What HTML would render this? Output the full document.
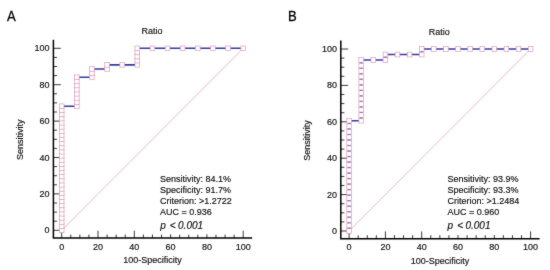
<!DOCTYPE html>
<html><head><meta charset="utf-8"><style>
html,body{margin:0;padding:0;background:#fff;}
body{width:550px;height:270px;overflow:hidden;font-family:"Liberation Sans",sans-serif;}
svg{display:block;}
</style></head><body>
<svg width="550" height="270" viewBox="0 0 550 270">
<defs><filter id="bl" color-interpolation-filters="sRGB" filterUnits="userSpaceOnUse" x="0" y="0" width="550" height="270"><feConvolveMatrix order="3" kernelMatrix="1 2 1 2 28 2 1 2 1" divisor="40" edgeMode="duplicate" preserveAlpha="true"/></filter></defs>
<g filter="url(#bl)">
<rect width="550" height="270" fill="#fff"/>
<line x1="61.70" y1="230.30" x2="243.20" y2="48.30" stroke="#d9a2b2" stroke-width="0.75"/>
<path d="M53.40 230.30H60.80M53.40 221.20H57.00M53.40 212.10H57.00M53.40 203.00H57.00M53.40 193.90H60.80M53.40 184.80H57.00M53.40 175.70H57.00M53.40 166.60H57.00M53.40 157.50H60.80M53.40 148.40H57.00M53.40 139.30H57.00M53.40 130.20H57.00M53.40 121.10H60.80M53.40 112.00H57.00M53.40 102.90H57.00M53.40 93.80H57.00M53.40 84.70H60.80M53.40 75.60H57.00M53.40 66.50H57.00M53.40 57.40H57.00M53.40 48.30H60.80M61.70 238.10V230.70M70.78 238.10V234.50M79.85 238.10V234.50M88.92 238.10V234.50M98.00 238.10V230.70M107.08 238.10V234.50M116.15 238.10V234.50M125.22 238.10V234.50M134.30 238.10V230.70M143.38 238.10V234.50M152.45 238.10V234.50M161.53 238.10V234.50M170.60 238.10V230.70M179.68 238.10V234.50M188.75 238.10V234.50M197.82 238.10V234.50M206.90 238.10V230.70M215.98 238.10V234.50M225.05 238.10V234.50M234.12 238.10V234.50M243.20 238.10V230.70" stroke="#3a3a3a" stroke-width="1" fill="none"/>
<path d="M53.40 39.70V238.85M52.65 238.10H252.20" stroke="#000000" stroke-width="1.5" fill="none"/>
<path d="M61.70 230.30L61.70 226.16L61.70 222.03L61.70 217.89L61.70 213.75L61.70 209.62L61.70 205.48L61.70 201.35L61.70 197.21L61.70 193.07L61.70 188.94L61.70 184.80L61.70 180.66L61.70 176.53L61.70 172.39L61.70 168.25L61.70 164.12L61.70 159.98L61.70 155.85L61.70 151.71L61.70 147.57L61.70 143.44L61.70 139.30L61.70 135.16L61.70 131.03L61.70 126.89L61.70 122.75L61.70 118.62L61.70 114.48L61.70 110.35L61.70 106.21L76.83 106.21L76.83 102.07L76.83 97.94L76.83 93.80L76.83 89.66L76.83 85.53L76.83 81.39L76.83 77.25L91.95 77.25L91.95 73.12L91.95 68.98L107.08 68.98L107.08 64.85L122.20 64.85L137.32 64.85L137.32 60.71L137.32 56.57L137.32 52.44L137.32 48.30L152.45 48.30L167.57 48.30L182.70 48.30L197.82 48.30L212.95 48.30L228.07 48.30L243.20 48.30" stroke="#3838a8" stroke-width="1.6" fill="none"/>
<line x1="349.10" y1="231.00" x2="530.60" y2="49.00" stroke="#d9a2b2" stroke-width="0.75"/>
<path d="M340.80 231.00H348.20M340.80 221.90H344.40M340.80 212.80H344.40M340.80 203.70H344.40M340.80 194.60H348.20M340.80 185.50H344.40M340.80 176.40H344.40M340.80 167.30H344.40M340.80 158.20H348.20M340.80 149.10H344.40M340.80 140.00H344.40M340.80 130.90H344.40M340.80 121.80H348.20M340.80 112.70H344.40M340.80 103.60H344.40M340.80 94.50H344.40M340.80 85.40H348.20M340.80 76.30H344.40M340.80 67.20H344.40M340.80 58.10H344.40M340.80 49.00H348.20M349.10 238.80V231.40M358.17 238.80V235.20M367.25 238.80V235.20M376.32 238.80V235.20M385.40 238.80V231.40M394.47 238.80V235.20M403.55 238.80V235.20M412.62 238.80V235.20M421.70 238.80V231.40M430.77 238.80V235.20M439.85 238.80V235.20M448.92 238.80V235.20M458.00 238.80V231.40M467.07 238.80V235.20M476.15 238.80V235.20M485.22 238.80V235.20M494.30 238.80V231.40M503.38 238.80V235.20M512.45 238.80V235.20M521.52 238.80V235.20M530.60 238.80V231.40" stroke="#3a3a3a" stroke-width="1" fill="none"/>
<path d="M340.80 40.40V239.55M340.05 238.80H539.60" stroke="#000000" stroke-width="1.5" fill="none"/>
<path d="M349.10 231.00L349.10 225.48L349.10 219.97L349.10 214.45L349.10 208.94L349.10 203.42L349.10 197.91L349.10 192.39L349.10 186.88L349.10 181.36L349.10 175.85L349.10 170.33L349.10 164.82L349.10 159.30L349.10 153.79L349.10 148.27L349.10 142.76L349.10 137.24L349.10 131.73L349.10 126.21L349.10 120.70L361.20 120.70L361.20 115.18L361.20 109.67L361.20 104.15L361.20 98.64L361.20 93.12L361.20 87.61L361.20 82.09L361.20 76.58L361.20 71.06L361.20 65.55L361.20 60.03L373.30 60.03L385.40 60.03L385.40 54.52L397.50 54.52L409.60 54.52L421.70 54.52L421.70 49.00L433.80 49.00L445.90 49.00L458.00 49.00L470.10 49.00L482.20 49.00L494.30 49.00L506.40 49.00L518.50 49.00L530.60 49.00" stroke="#3838a8" stroke-width="1.6" fill="none"/>
<rect x="157" y="168" width="80" height="66.3" fill="#fff"/>
<rect x="444.40" y="168.70" width="80" height="66.3" fill="#fff"/>
<g fill="#fff" stroke="#dc9ab7" stroke-width="0.7">
<rect x="59.40" y="228.00" width="4.6" height="4.60"/>
<rect x="59.40" y="223.86" width="4.6" height="4.60"/>
<rect x="59.40" y="219.73" width="4.6" height="4.60"/>
<rect x="59.40" y="215.59" width="4.6" height="4.60"/>
<rect x="59.40" y="211.45" width="4.6" height="4.60"/>
<rect x="59.40" y="207.32" width="4.6" height="4.60"/>
<rect x="59.40" y="203.18" width="4.6" height="4.60"/>
<rect x="59.40" y="199.05" width="4.6" height="4.60"/>
<rect x="59.40" y="194.91" width="4.6" height="4.60"/>
<rect x="59.40" y="190.77" width="4.6" height="4.60"/>
<rect x="59.40" y="186.64" width="4.6" height="4.60"/>
<rect x="59.40" y="182.50" width="4.6" height="4.60"/>
<rect x="59.40" y="178.36" width="4.6" height="4.60"/>
<rect x="59.40" y="174.23" width="4.6" height="4.60"/>
<rect x="59.40" y="170.09" width="4.6" height="4.60"/>
<rect x="59.40" y="165.95" width="4.6" height="4.60"/>
<rect x="59.40" y="161.82" width="4.6" height="4.60"/>
<rect x="59.40" y="157.68" width="4.6" height="4.60"/>
<rect x="59.40" y="153.55" width="4.6" height="4.60"/>
<rect x="59.40" y="149.41" width="4.6" height="4.60"/>
<rect x="59.40" y="145.27" width="4.6" height="4.60"/>
<rect x="59.40" y="141.14" width="4.6" height="4.60"/>
<rect x="59.40" y="137.00" width="4.6" height="4.60"/>
<rect x="59.40" y="132.86" width="4.6" height="4.60"/>
<rect x="59.40" y="128.73" width="4.6" height="4.60"/>
<rect x="59.40" y="124.59" width="4.6" height="4.60"/>
<rect x="59.40" y="120.45" width="4.6" height="4.60"/>
<rect x="59.40" y="116.32" width="4.6" height="4.60"/>
<rect x="59.40" y="112.18" width="4.6" height="4.60"/>
<rect x="59.40" y="108.05" width="4.6" height="4.60"/>
<rect x="59.40" y="103.91" width="4.6" height="4.60"/>
<rect x="74.53" y="103.91" width="4.6" height="4.60"/>
<rect x="74.53" y="99.77" width="4.6" height="4.60"/>
<rect x="74.53" y="95.64" width="4.6" height="4.60"/>
<rect x="74.53" y="91.50" width="4.6" height="4.60"/>
<rect x="74.53" y="87.36" width="4.6" height="4.60"/>
<rect x="74.53" y="83.23" width="4.6" height="4.60"/>
<rect x="74.53" y="79.09" width="4.6" height="4.60"/>
<rect x="74.53" y="74.95" width="4.6" height="4.60"/>
<rect x="89.65" y="74.95" width="4.6" height="4.60"/>
<rect x="89.65" y="70.82" width="4.6" height="4.60"/>
<rect x="89.65" y="66.68" width="4.6" height="4.60"/>
<rect x="104.78" y="66.68" width="4.6" height="4.60"/>
<rect x="104.78" y="62.55" width="4.6" height="4.60"/>
<rect x="119.90" y="62.55" width="4.6" height="4.60"/>
<rect x="135.02" y="62.55" width="4.6" height="4.60"/>
<rect x="135.02" y="58.41" width="4.6" height="4.60"/>
<rect x="135.02" y="54.27" width="4.6" height="4.60"/>
<rect x="135.02" y="50.14" width="4.6" height="4.60"/>
<rect x="135.02" y="46.00" width="4.6" height="4.60"/>
<rect x="150.15" y="46.00" width="4.6" height="4.60"/>
<rect x="165.27" y="46.00" width="4.6" height="4.60"/>
<rect x="180.40" y="46.00" width="4.6" height="4.60"/>
<rect x="195.52" y="46.00" width="4.6" height="4.60"/>
<rect x="210.65" y="46.00" width="4.6" height="4.60"/>
<rect x="225.77" y="46.00" width="4.6" height="4.60"/>
<rect x="240.90" y="46.00" width="4.6" height="4.60"/>
<rect x="346.80" y="228.59" width="4.6" height="4.82"/>
<rect x="346.80" y="223.08" width="4.6" height="4.82"/>
<rect x="346.80" y="217.56" width="4.6" height="4.82"/>
<rect x="346.80" y="212.05" width="4.6" height="4.82"/>
<rect x="346.80" y="206.53" width="4.6" height="4.82"/>
<rect x="346.80" y="201.02" width="4.6" height="4.82"/>
<rect x="346.80" y="195.50" width="4.6" height="4.82"/>
<rect x="346.80" y="189.99" width="4.6" height="4.82"/>
<rect x="346.80" y="184.47" width="4.6" height="4.82"/>
<rect x="346.80" y="178.96" width="4.6" height="4.82"/>
<rect x="346.80" y="173.44" width="4.6" height="4.82"/>
<rect x="346.80" y="167.93" width="4.6" height="4.82"/>
<rect x="346.80" y="162.41" width="4.6" height="4.82"/>
<rect x="346.80" y="156.90" width="4.6" height="4.82"/>
<rect x="346.80" y="151.38" width="4.6" height="4.82"/>
<rect x="346.80" y="145.87" width="4.6" height="4.82"/>
<rect x="346.80" y="140.35" width="4.6" height="4.82"/>
<rect x="346.80" y="134.83" width="4.6" height="4.82"/>
<rect x="346.80" y="129.32" width="4.6" height="4.82"/>
<rect x="346.80" y="123.80" width="4.6" height="4.82"/>
<rect x="346.80" y="118.29" width="4.6" height="4.82"/>
<rect x="358.90" y="118.29" width="4.6" height="4.82"/>
<rect x="358.90" y="112.77" width="4.6" height="4.82"/>
<rect x="358.90" y="107.26" width="4.6" height="4.82"/>
<rect x="358.90" y="101.74" width="4.6" height="4.82"/>
<rect x="358.90" y="96.23" width="4.6" height="4.82"/>
<rect x="358.90" y="90.71" width="4.6" height="4.82"/>
<rect x="358.90" y="85.20" width="4.6" height="4.82"/>
<rect x="358.90" y="79.68" width="4.6" height="4.82"/>
<rect x="358.90" y="74.17" width="4.6" height="4.82"/>
<rect x="358.90" y="68.65" width="4.6" height="4.82"/>
<rect x="358.90" y="63.14" width="4.6" height="4.82"/>
<rect x="358.90" y="57.62" width="4.6" height="4.82"/>
<rect x="371.00" y="57.62" width="4.6" height="4.82"/>
<rect x="383.10" y="57.62" width="4.6" height="4.82"/>
<rect x="383.10" y="52.11" width="4.6" height="4.82"/>
<rect x="395.20" y="52.11" width="4.6" height="4.82"/>
<rect x="407.30" y="52.11" width="4.6" height="4.82"/>
<rect x="419.40" y="52.11" width="4.6" height="4.82"/>
<rect x="419.40" y="46.59" width="4.6" height="4.82"/>
<rect x="431.50" y="46.59" width="4.6" height="4.82"/>
<rect x="443.60" y="46.59" width="4.6" height="4.82"/>
<rect x="455.70" y="46.59" width="4.6" height="4.82"/>
<rect x="467.80" y="46.59" width="4.6" height="4.82"/>
<rect x="479.90" y="46.59" width="4.6" height="4.82"/>
<rect x="492.00" y="46.59" width="4.6" height="4.82"/>
<rect x="504.10" y="46.59" width="4.6" height="4.82"/>
<rect x="516.20" y="46.59" width="4.6" height="4.82"/>
<rect x="528.30" y="46.59" width="4.6" height="4.82"/>
</g>
<g fill="#9a6cb8">
<rect x="347.60" y="227.74" width="3.0" height="1.0"/>
<rect x="347.60" y="222.23" width="3.0" height="1.0"/>
<rect x="347.60" y="216.71" width="3.0" height="1.0"/>
<rect x="347.60" y="211.20" width="3.0" height="1.0"/>
<rect x="347.60" y="205.68" width="3.0" height="1.0"/>
<rect x="347.60" y="200.17" width="3.0" height="1.0"/>
<rect x="347.60" y="194.65" width="3.0" height="1.0"/>
<rect x="347.60" y="189.14" width="3.0" height="1.0"/>
<rect x="347.60" y="183.62" width="3.0" height="1.0"/>
<rect x="347.60" y="178.11" width="3.0" height="1.0"/>
<rect x="347.60" y="172.59" width="3.0" height="1.0"/>
<rect x="347.60" y="167.08" width="3.0" height="1.0"/>
<rect x="347.60" y="161.56" width="3.0" height="1.0"/>
<rect x="347.60" y="156.05" width="3.0" height="1.0"/>
<rect x="347.60" y="150.53" width="3.0" height="1.0"/>
<rect x="347.60" y="145.02" width="3.0" height="1.0"/>
<rect x="347.60" y="139.50" width="3.0" height="1.0"/>
<rect x="347.60" y="133.98" width="3.0" height="1.0"/>
<rect x="347.60" y="128.47" width="3.0" height="1.0"/>
<rect x="347.60" y="122.95" width="3.0" height="1.0"/>
<rect x="359.70" y="117.44" width="3.0" height="1.0"/>
<rect x="359.70" y="111.92" width="3.0" height="1.0"/>
<rect x="359.70" y="106.41" width="3.0" height="1.0"/>
<rect x="359.70" y="100.89" width="3.0" height="1.0"/>
<rect x="359.70" y="95.38" width="3.0" height="1.0"/>
<rect x="359.70" y="89.86" width="3.0" height="1.0"/>
<rect x="359.70" y="84.35" width="3.0" height="1.0"/>
<rect x="359.70" y="78.83" width="3.0" height="1.0"/>
<rect x="359.70" y="73.32" width="3.0" height="1.0"/>
<rect x="359.70" y="67.80" width="3.0" height="1.0"/>
<rect x="359.70" y="62.29" width="3.0" height="1.0"/>
<rect x="383.90" y="56.77" width="3.0" height="1.0"/>
<rect x="420.20" y="51.26" width="3.0" height="1.0"/>
</g>
<g font-family="Liberation Sans, sans-serif" font-size="9" fill="#111111" stroke="#111111" stroke-width="0.16">
<text x="49.60" y="233.30" text-anchor="end">0</text>
<text x="61.70" y="249.70" text-anchor="middle">0</text>
<text x="49.60" y="196.90" text-anchor="end">20</text>
<text x="98.00" y="249.70" text-anchor="middle">20</text>
<text x="49.60" y="160.50" text-anchor="end">40</text>
<text x="134.30" y="249.70" text-anchor="middle">40</text>
<text x="49.60" y="124.10" text-anchor="end">60</text>
<text x="170.60" y="249.70" text-anchor="middle">60</text>
<text x="49.60" y="87.70" text-anchor="end">80</text>
<text x="206.90" y="249.70" text-anchor="middle">80</text>
<text x="49.60" y="51.30" text-anchor="end">100</text>
<text x="243.20" y="249.70" text-anchor="middle">100</text>
<text x="337.00" y="234.00" text-anchor="end">0</text>
<text x="349.10" y="250.40" text-anchor="middle">0</text>
<text x="337.00" y="197.60" text-anchor="end">20</text>
<text x="385.40" y="250.40" text-anchor="middle">20</text>
<text x="337.00" y="161.20" text-anchor="end">40</text>
<text x="421.70" y="250.40" text-anchor="middle">40</text>
<text x="337.00" y="124.80" text-anchor="end">60</text>
<text x="458.00" y="250.40" text-anchor="middle">60</text>
<text x="337.00" y="88.40" text-anchor="end">80</text>
<text x="494.30" y="250.40" text-anchor="middle">80</text>
<text x="337.00" y="52.00" text-anchor="end">100</text>
<text x="530.60" y="250.40" text-anchor="middle">100</text>
<text x="160.00" y="181.80">Sensitivity: 84.1%</text>
<text x="160.00" y="192.70">Specificity: 91.7%</text>
<text x="160.00" y="203.60">Criterion: &gt;1.2722</text>
<text x="160.00" y="214.50">AUC = 0.936</text>
<text x="160.20" y="228.60" font-style="italic" font-size="10">p<tspan dx="1.2"> &lt;</tspan><tspan dx="-0.3"> 0.001</tspan></text>
<text x="447.40" y="182.10">Sensitivity: 93.9%</text>
<text x="447.40" y="193.00">Specificity: 93.3%</text>
<text x="447.40" y="203.90">Criterion: &gt;1.2484</text>
<text x="447.40" y="214.80">AUC = 0.960</text>
<text x="447.60" y="228.90" font-style="italic" font-size="10">p<tspan dx="1.2"> &lt;</tspan><tspan dx="-0.3"> 0.001</tspan></text>
<text x="151.95" y="34.30" text-anchor="middle">Ratio</text>
<text x="152.50" y="262.90" text-anchor="middle">100-Specificity</text>
<text transform="translate(22.60 139.70) rotate(-90)" text-anchor="middle">Sensitivity</text>
<text x="439.35" y="35.00" text-anchor="middle">Ratio</text>
<text x="439.90" y="263.60" text-anchor="middle">100-Specificity</text>
<text transform="translate(310.00 140.40) rotate(-90)" text-anchor="middle">Sensitivity</text>
</g>
<g font-family="Liberation Sans, sans-serif" font-size="15.4" fill="#000" stroke="#000" stroke-width="0.3">
<text transform="translate(7.0 20.6) scale(0.85 1)">A</text>
<text transform="translate(288.0 20.6) scale(0.85 1)">B</text>
</g>
</g>
</svg>
</body></html>
